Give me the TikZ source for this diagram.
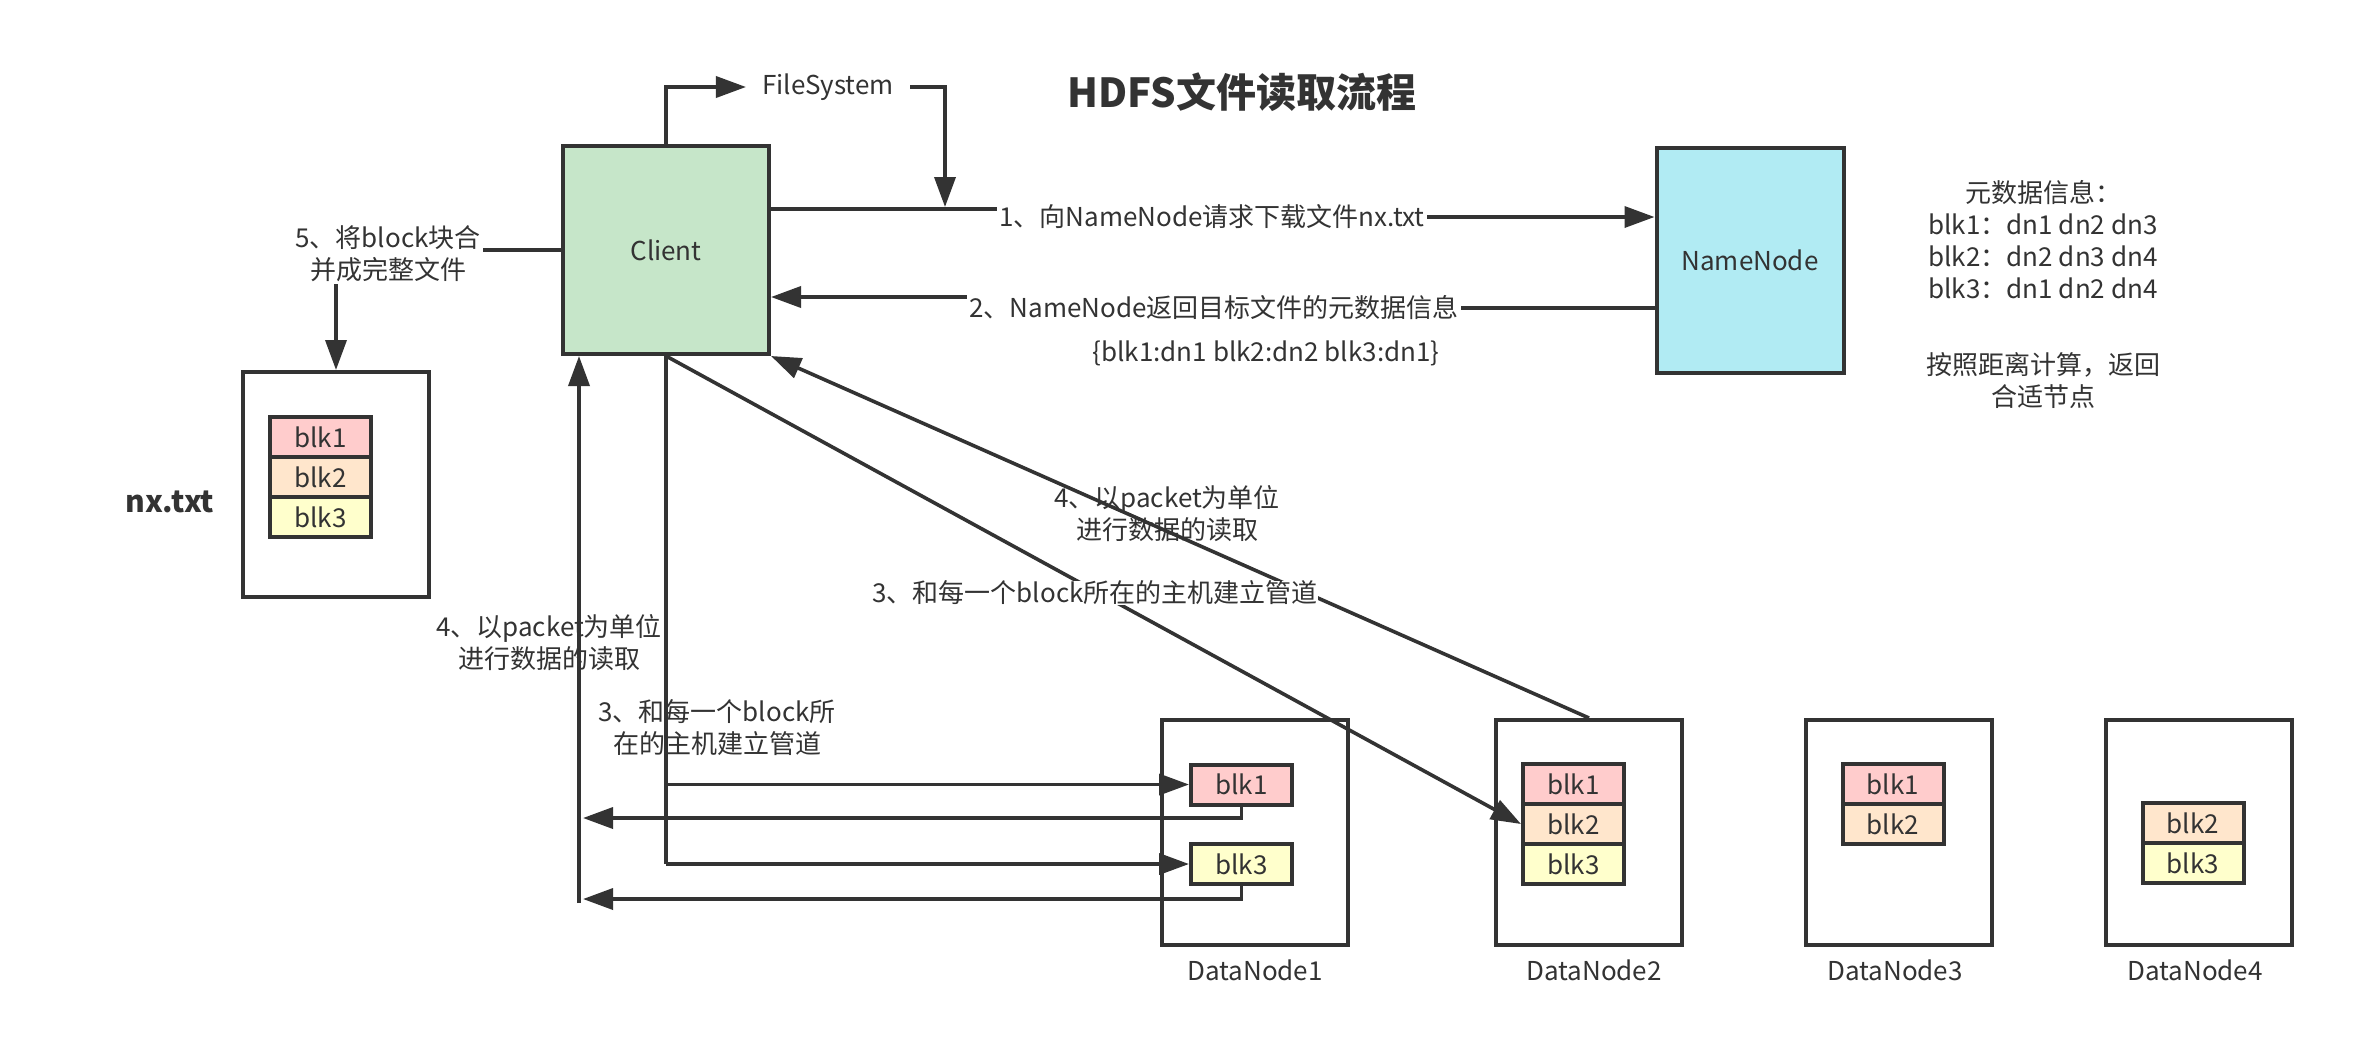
\documentclass[tikz,border=0pt]{standalone}
\usepackage{fontspec}
\setmainfont{Noto Sans CJK SC}
\usetikzlibrary{arrows.meta}
\definecolor{ink}{HTML}{333333}
\definecolor{cgreen}{HTML}{C6E6C9}
\definecolor{ccyan}{HTML}{B1EBF3}
\definecolor{bone}{HTML}{FFCCCC}
\definecolor{btwo}{HTML}{FFE6CC}
\definecolor{bthree}{HTML}{FFFFCC}
\begin{document}
\begin{tikzpicture}[x=0.5pt,y=-0.5pt,
  box/.style={draw=ink, line width=2pt, inner sep=0pt, text=ink, font=\fontsize{13}{16}\selectfont},
  blk/.style={box, minimum width=50.5pt, minimum height=20pt},
  dnbox/.style={box, fill=white, minimum width=93pt, minimum height=112.5pt},
  lbl/.style={text=ink, inner sep=1pt, align=center, font=\fontsize{13}{16}\selectfont},
  conn/.style={draw=ink, line width=1.8pt},
  arr/.style={-{Triangle[length=15pt,width=10.5pt]}}]
\fill[white] (0,0) rectangle (2365,1056);
\useasboundingbox (0,0) rectangle (2365,1056);

% title
\node[lbl, font=\bfseries\fontsize{20}{24}\selectfont] (title) at (1242,92) {HDFS文件读取流程};

% main nodes
\node[box, fill=cgreen, minimum width=103pt, minimum height=104pt] (client) at (666,250) {Client};
\node[box, fill=ccyan, minimum width=93.5pt, minimum height=112.5pt] (nn) at (1750,260.5) {NameNode};

% nx.txt
\node[dnbox] (nx) at (336,484.5) {};
\node[blk, fill=bone] (nxb1) at (320.5,437) {blk1};
\node[blk, fill=btwo] (nxb2) at (320.5,477) {blk2};
\node[blk, fill=bthree] (nxb3) at (320.5,517) {blk3};
\node[lbl, font=\bfseries\fontsize{15}{18}\selectfont] (nxl) at (170,502) {nx.txt};

% DataNodes
\node[dnbox] (dn1) at (1255,832) {};
\node[blk, fill=bone] (d1b1) at (1241.5,784.5) {blk1};
\node[blk, fill=bthree] (d1b3) at (1241.5,864) {blk3};
\node[lbl] (dn1l) at (1255,970) {DataNode1};

\node[dnbox] (dn2) at (1589,832.5) {};
\node[blk, fill=bone] (d2b1) at (1573.5,784) {blk1};
\node[blk, fill=btwo] (d2b2) at (1573.5,824) {blk2};
\node[blk, fill=bthree] (d2b3) at (1573.5,864) {blk3};
\node[lbl] (dn2l) at (1594,970) {DataNode2};

\node[dnbox] (dn3) at (1899,832.5) {};
\node[blk, fill=bone] (d3b1) at (1893,784) {blk1};
\node[blk, fill=btwo] (d3b2) at (1893,824) {blk2};
\node[lbl] (dn3l) at (1895,970) {DataNode3};

\node[dnbox] (dn4) at (2198.5,832.5) {};
\node[blk, fill=btwo] (d4b2) at (2193,823) {blk2};
\node[blk, fill=bthree] (d4b3) at (2193,863) {blk3};
\node[lbl] (dn4l) at (2195,970) {DataNode4};

% texts
\node[lbl, inner xsep=8pt] (fs) at (828,87) {FileSystem};
\node[lbl] (l1) at (1212,217) {1、向NameNode请求下载文件nx.txt};
\node[lbl] (l2) at (1214,308) {2、NameNode返回目标文件的元数据信息};
\node[lbl] (meta) at (1266,353) {\{blk1:dn1 blk2:dn2 blk3:dn1\}};
\node[lbl] (info) at (2043,239.5) {元数据信息：\\blk1：dn1 dn2 dn3\\blk2：dn2 dn3 dn4\\blk3：dn1 dn2 dn4};
\node[lbl] (dist) at (2043,381) {按照距离计算，返回\\合适节点};
\node[lbl] (l5) at (388,253.5) {5、将block块合\\并成完整文件};
\node[lbl] (l4a) at (549,642.5) {4、以packet为单位\\进行数据的读取};
\node[lbl] (l3a) at (717,727.5) {3、和每一个block所\\在的主机建立管道};
\node[lbl] (l4b) at (1167,513.5) {4、以packet为单位\\进行数据的读取};

% helper coordinates
\coordinate (h1) at (0,209);
\coordinate (h2) at (0,297);
\coordinate (fsin) at (945,207);
\coordinate (upb) at (579,903);
\coordinate (r1) at (583,818);
\coordinate (r2) at (583,899);

% connectors
\draw[conn,arr] (client.north) |- (fs.west);
\draw[conn,arr] (fs.east) -| (fsin);
\draw[conn] (client.east |- h1) -- (l1.west |- h1);
\draw[conn,arr] (l1.east) -- (nn.west |- l1.east);
\draw[conn] (nn.west |- l2.east) -- (l2.east);
\draw[conn,arr] (l2.west |- h2) -- (client.east |- h2);
\draw[conn] (client.west) -- (client.west -| l5.east);
\draw[conn,arr] (l5.south -| nx.north) -- (nx.north);
\draw[conn,arr] (upb) -- (upb |- client.south);
\draw[conn,arr] (d1b1.south) |- (r1);
\draw[conn,arr] (d1b3.south) |- (r2);
\draw[conn] (client.south) -- (client.south |- d1b3.west);
\draw[conn,arr] (client.south |- d1b1.west) -- (d1b1.west);
\draw[conn,arr] (client.south |- d1b3.west) -- (d1b3.west);
\draw[conn,arr] (client.south) -- (d2b2.west);
\draw[conn,arr] (dn2.north) -- (client.south east);

\node[lbl, fill=white, inner sep=0pt] (l3b) at (1095,593) {3、和每一个block所在的主机建立管道};
\end{tikzpicture}
\end{document}
